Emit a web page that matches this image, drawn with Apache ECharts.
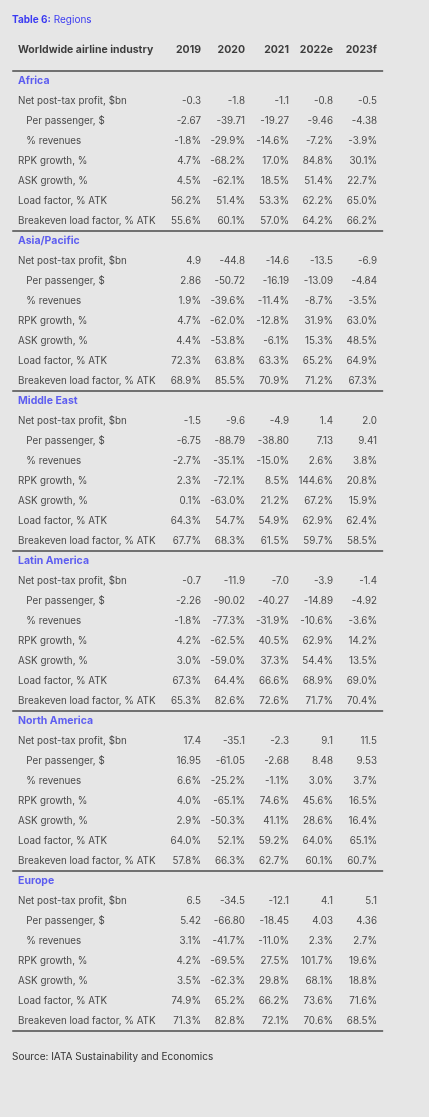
<!DOCTYPE html>
<html><head><meta charset="utf-8">
<script src="https://cdn.jsdelivr.net/npm/echarts@6/dist/echarts.min.js"></script>
<style>html,body{margin:0;padding:0;background:#e6e6e6;}#c{width:429px;height:1117px;}</style>
</head><body><div id="c"></div>
<script>
const years = ['2019','2020','2021','2022e','2023f'];
const regions = ['Africa','Asia/Pacific','Middle East','Latin America','North America','Europe'];
const metrics = ['Net post-tax profit, $bn','Per passenger, $','% revenues','RPK growth, %','ASK growth, %','Load factor, % ATK','Breakeven load factor, % ATK'];
const africa = [[-0.3,-1.8,-1.1,-0.8,-0.5],[-2.67,-39.71,-19.27,-9.46,-4.38],[-1.8,-29.9,-14.6,-7.2,-3.9],[4.7,-68.2,17.0,84.8,30.1],[4.5,-62.1,18.5,51.4,22.7],[56.2,51.4,53.3,62.2,65.0],[55.6,60.1,57.0,64.2,66.2]];
const asiaPacific = [[4.9,-44.8,-14.6,-13.5,-6.9],[2.86,-50.72,-16.19,-13.09,-4.84],[1.9,-39.6,-11.4,-8.7,-3.5],[4.7,-62.0,-12.8,31.9,63.0],[4.4,-53.8,-6.1,15.3,48.5],[72.3,63.8,63.3,65.2,64.9],[68.9,85.5,70.9,71.2,67.3]];
const middleEast = [[-1.5,-9.6,-4.9,1.4,2.0],[-6.75,-88.79,-38.80,7.13,9.41],[-2.7,-35.1,-15.0,2.6,3.8],[2.3,-72.1,8.5,144.6,20.8],[0.1,-63.0,21.2,67.2,15.9],[64.3,54.7,54.9,62.9,62.4],[67.7,68.3,61.5,59.7,58.5]];
const latinAmerica = [[-0.7,-11.9,-7.0,-3.9,-1.4],[-2.26,-90.02,-40.27,-14.89,-4.92],[-1.8,-77.3,-31.9,-10.6,-3.6],[4.2,-62.5,40.5,62.9,14.2],[3.0,-59.0,37.3,54.4,13.5],[67.3,64.4,66.6,68.9,69.0],[65.3,82.6,72.6,71.7,70.4]];
const northAmerica = [[17.4,-35.1,-2.3,9.1,11.5],[16.95,-61.05,-2.68,8.48,9.53],[6.6,-25.2,-1.1,3.0,3.7],[4.0,-65.1,74.6,45.6,16.5],[2.9,-50.3,41.1,28.6,16.4],[64.0,52.1,59.2,64.0,65.1],[57.8,66.3,62.7,60.1,60.7]];
const europe = [[6.5,-34.5,-12.1,4.1,5.1],[5.42,-66.80,-18.45,4.03,4.36],[3.1,-41.7,-11.0,2.3,2.7],[4.2,-69.5,27.5,101.7,19.6],[3.5,-62.3,29.8,68.1,18.8],[74.9,65.2,66.2,73.6,71.6],[71.3,82.8,72.1,70.6,68.5]];
const regionData = [africa, asiaPacific, middleEast, latinAmerica, northAmerica, europe];

const FONT = 'Inter';
function fmt(m, v){ return m===0 ? v.toFixed(1) : m===1 ? v.toFixed(2) : v.toFixed(1)+'%'; }

const headerPts = [], labelPts = [], valuePts = [], sepLines = [];
regions.forEach((r, ri) => {
  const base = ri*8;
  headerPts.push({value:[1, base], name:r});
  metrics.forEach((m, mi) => {
    labelPts.push({value:[1, base+1+mi], name:m, indent: (mi===1||mi===2)});
    regionData[ri][mi].forEach((v, yi) => valuePts.push({value:[1+yi, base+1+mi], name:fmt(mi, v)}));
  });
  sepLines.push([{coord:[-3.29, base+7.5]},{coord:[5.14, base+7.5]}]);
});
sepLines.push([{coord:[-3.29, -0.5]},{coord:[5.14, -0.5]}]);
const colHeads = years.map((y,i)=>({value:[1+i,-1.55], name:y}));

const chart = echarts.init(document.getElementById('c'), null, {renderer:'canvas'});
chart.setOption({
  backgroundColor:'#e6e6e6',
  animation:false,
  grid:{left:0,right:0,top:0,bottom:0},
  xAxis:{type:'value', min:-157/44, max:(429-157)/44, show:false},
  yAxis:{type:'value', inverse:true, min:-81/20, max:(1117-81)/20, show:false},
  graphic:[
    {type:'text', left:12, top:15, style:{text:'{b|Table 6:} Regions', fill:'#3b3bf2', font:'10px '+FONT, rich:{b:{fontWeight:'bold', fill:'#3b3bf2', fontSize:10, fontFamily:FONT}}}},
    {type:'text', left:12, top:1052, style:{text:'Source: IATA Sustainability and Economics', fill:'#333', font:'10px '+FONT}}
  ],
  series:[
    {type:'scatter', symbolSize:0, data:colHeads,
     label:{show:true, position:'inside', align:'right', formatter:p=>p.name, color:'#111', fontWeight:'bold', fontSize:10.5, fontFamily:FONT}},
    {type:'scatter', symbolSize:0, data:[{value:[1,-1.55], name:'Worldwide airline industry'}],
     label:{show:true, position:'inside', align:'left', offset:[-183,0], formatter:p=>p.name, color:'#111', fontWeight:'bold', fontSize:10.5, fontFamily:FONT}},
    {type:'scatter', symbolSize:0, data:headerPts,
     label:{show:true, position:'inside', align:'left', offset:[-183,0], formatter:p=>p.name, color:'#3b3bf2', fontWeight:'bold', fontSize:10.5, fontFamily:FONT}},
    {type:'scatter', symbolSize:0, data:labelPts,
     label:{show:true, position:'inside', align:'left', offset:[-183,0], formatter:p=>(p.data.indent?'   ':'')+p.name, color:'#1a1a1a', fontSize:9.8, fontFamily:FONT}},
    {type:'scatter', symbolSize:0, data:valuePts,
     label:{show:true, position:'inside', align:'right', formatter:p=>p.name, color:'#1a1a1a', fontSize:9.8, fontFamily:FONT},
     markLine:{silent:true, symbol:'none', label:{show:false}, lineStyle:{color:'#4a4a4a', width:1.6, type:'solid'}, data:sepLines}}
  ]
});
</script></body></html>
